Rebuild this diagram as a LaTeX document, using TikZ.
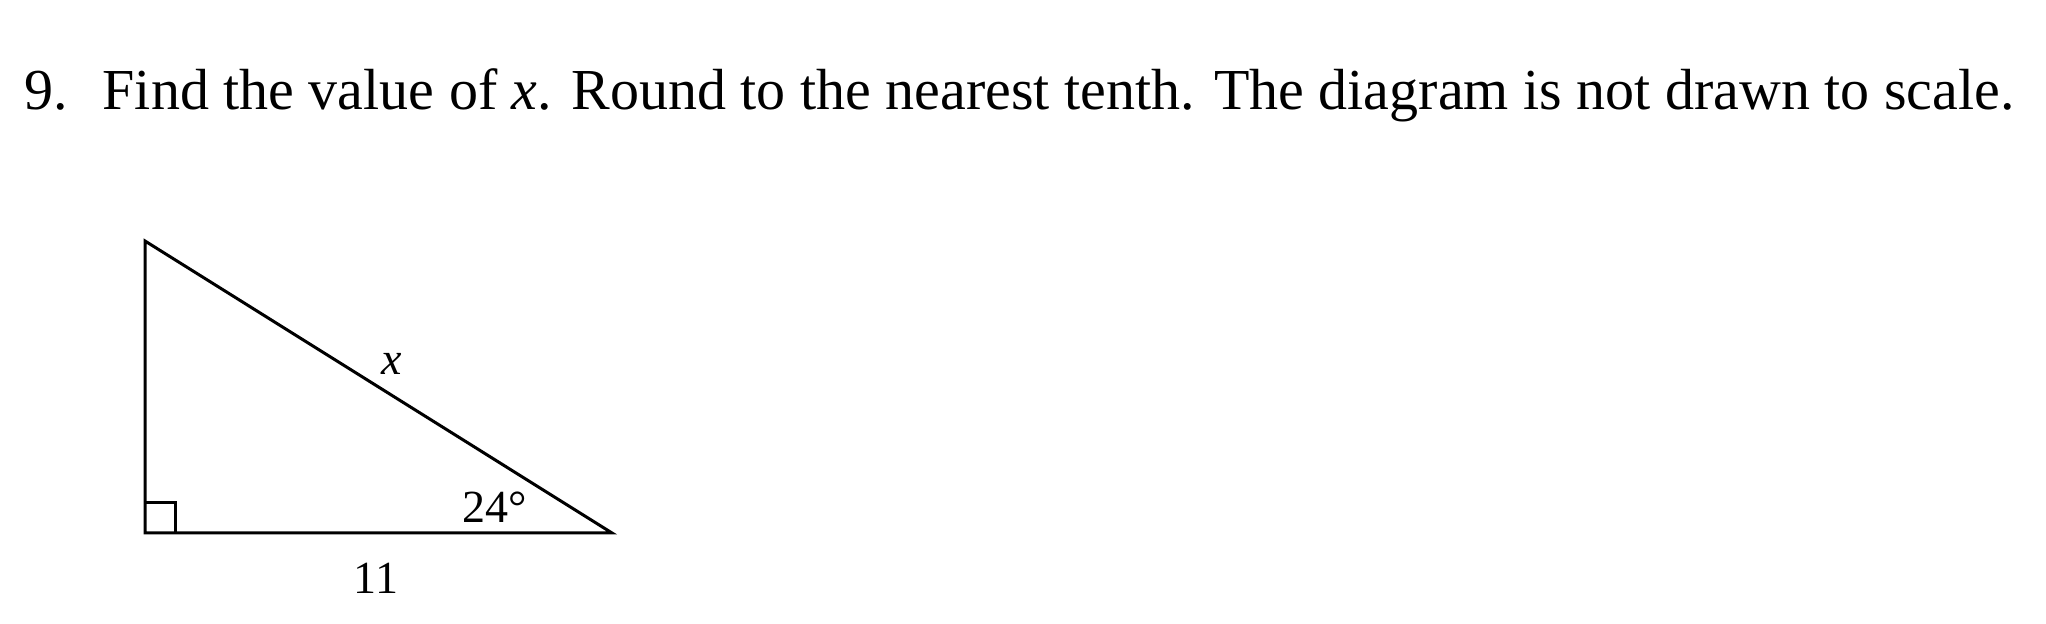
\documentclass[tikz,border=0pt]{standalone}
\usepackage{fontspec}
\setmainfont{Liberation Serif}
\tikzset{
	side/.style={line width=1.5pt, line join=miter},
	qtext/.style={font=\fontsize{29}{34}\selectfont, inner sep=0pt},
	lbl/.style={font=\fontsize{23}{27}\selectfont, inner sep=0pt}
}
\begin{document}
\begin{tikzpicture}[x=0.5pt,y=0.5pt]
	\useasboundingbox (0,0) rectangle (2046,624);

	\node[qtext, anchor=base west] (q) at (24,514) {9.\hspace{0.6em}Find the value of \textit{x}. Round to the nearest tenth. The diagram is not drawn to scale.};

	\coordinate (top) at (145,383);
	\coordinate (rt) at (145,91);
	\coordinate (tip) at (612,91);

	\draw[side] (top) -- (rt) -- (tip) -- cycle;
	\draw[side] (145,121) -- (175,121) -- (175,91);

	\node[lbl, anchor=base] (hyp) at (392,249) {\textit{x}};
	\node[lbl, anchor=base west] (ang) at (462,101) {24°};
	\node[lbl] (leg) at (376,46) {11};
\end{tikzpicture}
\end{document}
